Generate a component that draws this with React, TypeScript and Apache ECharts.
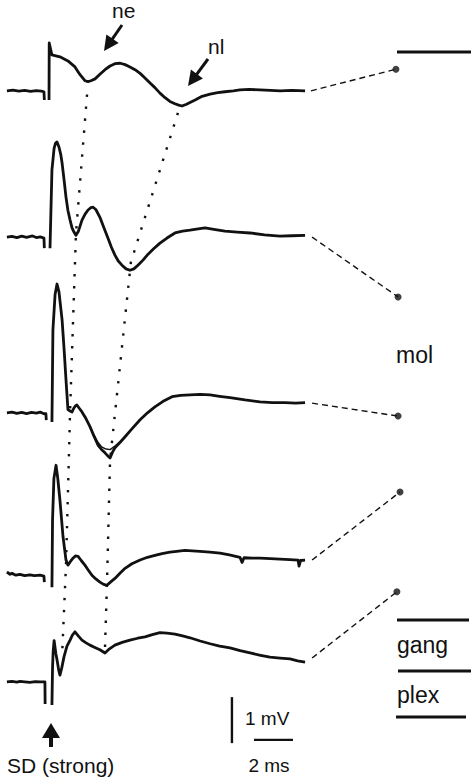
import React, { useEffect, useRef } from "react";
import * as echarts from "echarts";

// ---------- data (time in ms from stimulus, voltage in mV relative to each trace baseline) ----------
type Pt = [number, number | null];

const TRACE_1: Pt[] = [
  [-2.21, 0], [-1.9, 0.015], [-1.6, -0.005], [-1.3, 0.01], [-1.0, -0.01], [-0.7, 0.005], [-0.45, -0.005],
  [-0.31, -0.02], [-0.29, -0.2], [-0.17, null], [-0.05, -0.2], [-0.04, 1.04], [0.1, 0.78], [0.3, 0.76],
  [0.51, 0.74], [0.92, 0.65], [1.28, 0.52], [1.54, 0.35], [1.79, 0.22], [1.95, 0.2], [2.1, 0.22],
  [2.31, 0.26], [2.56, 0.36], [2.82, 0.46], [3.08, 0.54], [3.33, 0.59], [3.6, 0.6], [3.85, 0.57],
  [4.1, 0.52], [4.36, 0.46], [4.62, 0.38], [4.87, 0.28], [5.13, 0.17], [5.38, 0.07], [5.64, -0.05],
  [5.9, -0.15], [6.15, -0.23], [6.41, -0.28], [6.6, -0.31], [6.77, -0.33], [7.0, -0.29], [7.44, -0.2],
  [7.8, -0.12], [8.21, -0.07], [8.6, -0.04], [8.97, -0.02], [9.4, 0.0], [9.74, 0.02], [10.2, 0.03],
  [10.77, 0.02], [11.3, 0.01], [11.8, 0.0], [12.4, 0.01], [13.08, 0.0],
];

const TRACE_2: Pt[] = [
  [-2.21, 0], [-1.95, 0.015], [-1.7, -0.01], [-1.45, 0.02], [-1.2, -0.005], [-0.9, 0.025], [-0.7, -0.01],
  [-0.5, 0.005], [-0.31, -0.02], [-0.29, -0.24], [-0.15, null], [0.0, -0.24], [0.1, 1.46], [0.21, 1.93],
  [0.28, 2.04], [0.36, 2.07], [0.46, 1.96], [0.55, 1.8], [0.62, 1.61], [0.72, 1.25], [0.82, 0.87],
  [0.92, 0.58], [1.03, 0.37], [1.13, 0.2], [1.23, 0.11], [1.33, 0.04], [1.45, 0.12], [1.64, 0.37],
  [1.8, 0.5], [1.95, 0.59], [2.1, 0.64], [2.21, 0.65], [2.35, 0.6], [2.56, 0.43], [2.75, 0.22],
  [2.97, -0.02], [3.15, -0.22], [3.33, -0.39], [3.5, -0.52], [3.69, -0.61], [3.9, -0.69], [4.1, -0.72],
  [4.3, -0.69], [4.51, -0.61], [4.77, -0.5], [5.03, -0.37], [5.3, -0.26], [5.64, -0.13], [6.0, -0.02],
  [6.41, 0.09], [6.8, 0.13], [7.18, 0.15], [7.6, 0.18], [7.95, 0.2], [8.4, 0.17], [8.97, 0.13],
  [9.6, 0.11], [10.26, 0.09], [11.0, 0.05], [11.79, 0.02], [12.4, 0.03], [13.08, 0.04],
];

const TRACE_3: Pt[] = [
  [-2.21, 0], [-1.95, 0.015], [-1.7, -0.01], [-1.45, 0.01], [-1.2, -0.015], [-0.95, 0.01], [-0.7, -0.005],
  [-0.5, 0.015], [-0.31, -0.02], [-0.21, -0.02], [-0.19, -0.16], [-0.05, null], [0.1, -0.2], [0.15, 1.8],
  [0.26, 2.57], [0.36, 2.8], [0.46, 2.63], [0.62, 2.02], [0.72, 1.4], [0.82, 0.72], [0.92, 0.07],
  [1.03, 0.04], [1.13, 0.02], [1.22, 0.1], [1.3, 0.15], [1.38, 0.17], [1.5, 0.1], [1.64, 0.02],
  [1.85, -0.13], [2.05, -0.3], [2.25, -0.5], [2.46, -0.7], [2.65, -0.8], [2.82, -0.87], [2.95, -0.93],
  [3.08, -0.98], [3.2, -0.86], [3.33, -0.76], [3.6, -0.64], [3.85, -0.52], [4.2, -0.35], [4.62, -0.15],
  [5.0, 0.0], [5.38, 0.13], [5.8, 0.25], [6.26, 0.35], [6.7, 0.38], [7.18, 0.39], [7.7, 0.4],
  [8.21, 0.39], [8.7, 0.36], [9.23, 0.33], [10.0, 0.28], [10.77, 0.24], [11.4, 0.22], [12.05, 0.22],
  [12.6, 0.21], [13.08, 0.22],
];

const TRACE_3_SWEEP: Pt[] = [
  [2.25, -0.48], [2.46, -0.64], [2.65, -0.74], [2.82, -0.78], [3.08, -0.8], [3.33, -0.72], [3.59, -0.63],
  [3.85, -0.52],
];

const TRACE_4: Pt[] = [
  [-2.21, 0.07], [-2.05, 0.02], [-1.95, 0.04], [-1.75, 0.0], [-1.54, 0.02], [-1.3, -0.01], [-1.03, 0.01],
  [-0.8, -0.01], [-0.51, 0.0], [-0.31, -0.02], [-0.29, -0.15], [-0.1, null], [0.1, -0.26], [0.13, 1.2],
  [0.2, 2.1], [0.31, 2.39], [0.4, 2.1], [0.51, 1.63], [0.67, 0.83], [0.82, 0.33], [0.92, 0.22],
  [1.05, 0.3], [1.18, 0.37], [1.3, 0.42], [1.44, 0.41], [1.6, 0.32], [1.79, 0.22], [1.95, 0.12],
  [2.15, 0.0], [2.35, -0.08], [2.56, -0.15], [2.75, -0.2], [2.92, -0.22], [3.1, -0.15], [3.33, -0.07],
  [3.6, 0.05], [3.85, 0.15], [4.2, 0.25], [4.62, 0.33], [5.0, 0.39], [5.38, 0.43], [5.75, 0.47],
  [6.15, 0.5], [6.5, 0.52], [6.92, 0.54], [7.3, 0.53], [7.69, 0.52], [8.2, 0.5], [8.72, 0.48],
  [9.2, 0.44], [9.74, 0.39], [9.85, 0.28], [9.95, 0.38], [10.4, 0.37], [10.77, 0.37], [11.3, 0.36],
  [11.79, 0.35], [12.3, 0.34], [12.72, 0.33], [12.77, 0.2], [12.85, 0.32], [13.08, 0.33],
];

const TRACE_5: Pt[] = [
  [-2.21, 0], [-1.95, 0.01], [-1.7, -0.005], [-1.54, 0.01], [-1.3, 0.0], [-1.03, -0.01], [-0.75, 0.005],
  [-0.5, 0.0], [-0.26, 0.0], [-0.25, -0.48], [-0.1, null], [0.1, -0.5], [0.13, 0.3], [0.16, 0.65],
  [0.21, 0.9], [0.3, 0.62], [0.36, 0.48], [0.45, 0.25], [0.51, 0.15], [0.6, 0.3], [0.72, 0.55],
  [0.87, 0.78], [1.03, 0.91], [1.15, 1.02], [1.28, 1.09], [1.45, 1.0], [1.64, 0.91], [1.85, 0.85],
  [2.05, 0.8], [2.3, 0.75], [2.56, 0.7], [2.82, 0.63], [3.05, 0.72], [3.33, 0.8], [3.7, 0.86],
  [4.1, 0.91], [4.5, 0.95], [4.87, 0.98], [5.25, 1.03], [5.64, 1.07], [6.0, 1.06], [6.41, 1.04],
  [6.8, 1.0], [7.18, 0.96], [7.7, 0.89], [8.21, 0.83], [8.7, 0.78], [9.23, 0.74], [9.75, 0.68],
  [10.26, 0.63], [10.8, 0.58], [11.28, 0.54], [11.8, 0.52], [12.31, 0.5], [12.7, 0.46], [13.08, 0.43],
];

const TRACES: Pt[][] = [TRACE_1, TRACE_2, TRACE_3, TRACE_4, TRACE_5];
// vertical stacking offsets of each trace's baseline (mV, absolute axis units)
const OFFSETS = [14.96, 11.78, 7.96, 4.43, 2.11];

// latency lines (absolute axis units: ms, mV)
const NE_LINE: [number, number][] = [[1.9, 14.88], [1.33, 11.85], [1.03, 8.0], [0.82, 4.65], [0.62, 2.68]];
const NL_LINE: [number, number][] = [[6.56, 14.48], [4.15, 11.24], [3.08, 6.93], [2.92, 4.22], [2.82, 2.85]];

// connector starts (trace ends) and electrode sites
const CONNECTOR_STARTS: [number, number][] = [[13.38, 14.96], [13.44, 11.78], [13.44, 8.17], [13.44, 4.76], [13.44, 2.63]];
const ELECTRODES: [number, number][] = [[17.74, 15.43], [17.85, 10.48], [17.85, 7.89], [17.95, 6.24], [17.79, 4.07]];

// calibration bars
const SCALE_MV_BAR: [number, number][] = [[9.33, 0.78], [9.33, 1.78]];
const SCALE_MS_BAR: [number, number][] = [[10.46, 0.85], [12.46, 0.85]];

const LAYER_LABELS = ["mol", "gang", "plex"];
const SCALE_LABELS = ["1 mV", "2 ms"];
const PEAK_LABELS = ["ne", "nl"];
const STIM_LABEL = "SD (strong)";

// ---------- layout ----------
const W = 474;
const H = 779;
const PX_PER_MS = 19.5;
const PX_PER_MV = 46;
const STIM_PX = 50;
const X_MIN = -STIM_PX / PX_PER_MS;
const X_MAX = (W - STIM_PX) / PX_PER_MS;
const Y_MAX = H / PX_PER_MV;
const INK = "#111111";
const FONT = "'Liberation Sans', Arial, Helvetica, sans-serif";

function arrow(tail: [number, number], tip: [number, number], headLen: number, headHalf: number, stemW: number) {
  const dx = tip[0] - tail[0];
  const dy = tip[1] - tail[1];
  const len = Math.hypot(dx, dy);
  const ux = dx / len;
  const uy = dy / len;
  const nx = -uy;
  const ny = ux;
  const bx = tip[0] - ux * headLen;
  const by = tip[1] - uy * headLen;
  return [
    {
      type: "line",
      shape: { x1: tail[0], y1: tail[1], x2: bx + ux * 2, y2: by + uy * 2 },
      style: { stroke: INK, lineWidth: stemW },
      silent: true,
    },
    {
      type: "polygon",
      shape: {
        points: [
          [tip[0], tip[1]],
          [bx + nx * headHalf, by + ny * headHalf],
          [bx - nx * headHalf, by - ny * headHalf],
        ],
      },
      style: { fill: INK },
      silent: true,
    },
  ];
}

function text(t: string, x: number, y: number, size: number, align = "left") {
  return {
    type: "text",
    x,
    y,
    silent: true,
    style: {
      text: t,
      font: `${size}px ${FONT}`,
      fill: INK,
      textAlign: align,
      textVerticalAlign: "middle",
    },
  };
}

function hline(x1: number, x2: number, y: number, w = 2.8) {
  return {
    type: "line",
    silent: true,
    shape: { x1, y1: y, x2, y2: y },
    style: { stroke: INK, lineWidth: w },
  };
}

export default function App() {
  const ref = useRef<HTMLDivElement>(null);

  useEffect(() => {
    if (!ref.current) return;
    const chart = echarts.init(ref.current, undefined, { renderer: "svg" });

    const traceSeries = TRACES.map((tr, i) => ({
      type: "line",
      name: `trace${i + 1}`,
      data: tr.map(([t, v]) => (v === null ? [t, "-"] : [t, v + OFFSETS[i]])),
      showSymbol: false,
      symbol: "none",
      silent: true,
      connectNulls: false,
      lineStyle: { color: INK, width: 2.8, join: "round" },
      z: 3,
    }));

    const sweepSeries = {
      type: "line",
      data: TRACE_3_SWEEP.map(([t, v]) => [t, (v as number) + OFFSETS[2]]),
      showSymbol: false,
      symbol: "none",
      silent: true,
      lineStyle: { color: INK, width: 1.4 },
      z: 3,
    };

    const dotted = (pts: [number, number][]) => ({
      type: "line",
      data: pts,
      showSymbol: false,
      symbol: "none",
      silent: true,
      lineStyle: { color: INK, width: 2.4, type: [2.4, 9.6], cap: "butt" },
      z: 2,
    });

    const connectorData: any[] = [];
    CONNECTOR_STARTS.forEach((s, i) => {
      connectorData.push(s, ELECTRODES[i], [ELECTRODES[i][0], "-"]);
    });

    const option: any = {
      animation: false,
      backgroundColor: "#ffffff",
      grid: { left: 0, right: 0, top: 0, bottom: 0, containLabel: false },
      xAxis: { type: "value", min: X_MIN, max: X_MAX, show: false },
      yAxis: { type: "value", min: 0, max: Y_MAX, show: false },
      series: [
        ...traceSeries,
        sweepSeries,
        dotted(NE_LINE),
        dotted(NL_LINE),
        {
          type: "line",
          data: connectorData,
          showSymbol: false,
          symbol: "none",
          silent: true,
          connectNulls: false,
          lineStyle: { color: INK, width: 1.4, type: [6, 4] },
          z: 2,
        },
        {
          type: "scatter",
          data: ELECTRODES,
          symbol: "circle",
          symbolSize: 7,
          silent: true,
          itemStyle: { color: INK },
          z: 4,
        },
        {
          type: "line",
          data: SCALE_MV_BAR,
          showSymbol: false,
          symbol: "none",
          silent: true,
          lineStyle: { color: INK, width: 2.4 },
        },
        {
          type: "line",
          data: SCALE_MS_BAR,
          showSymbol: false,
          symbol: "none",
          silent: true,
          lineStyle: { color: INK, width: 2.4 },
        },
      ],
      graphic: [
        // layer boundaries
        hline(397, 471, 52),
        hline(397, 469, 620),
        hline(398, 471, 671),
        hline(396, 466, 717),
        // labels
        text(PEAK_LABELS[0], 112, 10, 21),
        text(PEAK_LABELS[1], 208, 46, 21),
        text(LAYER_LABELS[0], 396, 355, 23),
        text(LAYER_LABELS[1], 397, 645, 23),
        text(LAYER_LABELS[2], 397, 695, 23),
        text(SCALE_LABELS[0], 245, 718, 19),
        text(SCALE_LABELS[1], 269, 765, 19, "center"),
        text(STIM_LABEL, 7, 765, 21),
        // arrows
        ...arrow([122, 25], [104, 51], 15, 7.5, 3),
        ...arrow([208, 59], [188, 86], 15, 7.5, 3),
        ...arrow([51, 747], [51, 723], 15, 9, 4),
      ],
    };

    chart.setOption(option);
    return () => chart.dispose();
  }, []);

  return (
    <div
      ref={ref}
      style={{ position: "absolute", left: 0, top: 0, width: W, height: H, background: "#fff" }}
    />
  );
}
